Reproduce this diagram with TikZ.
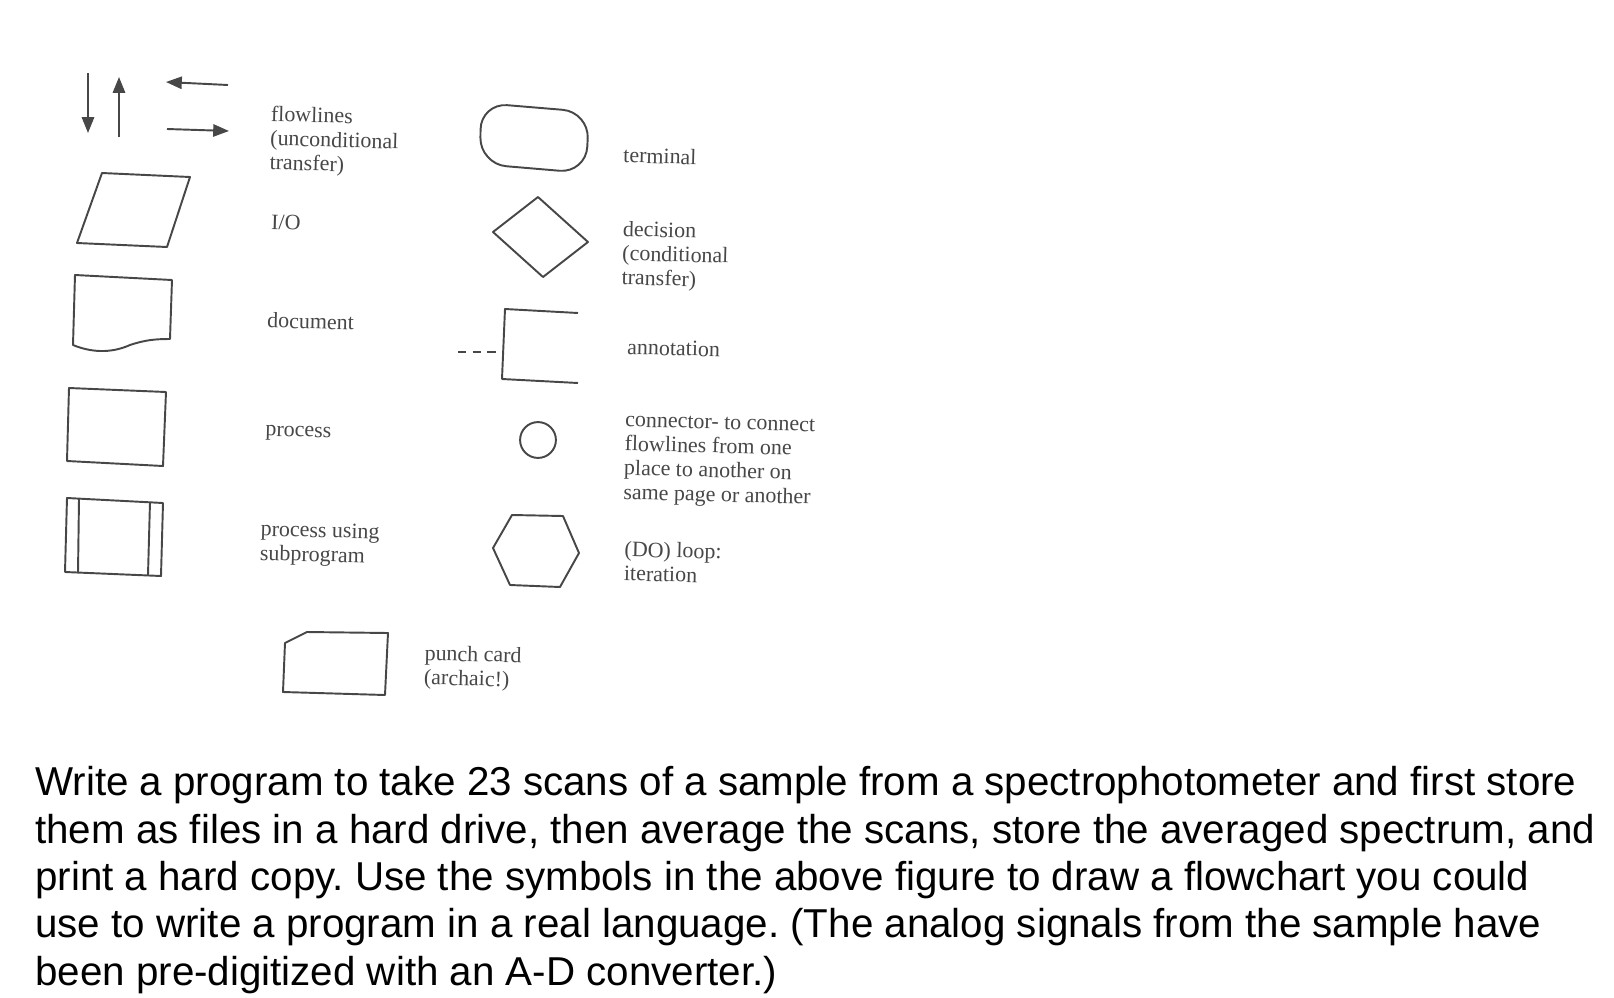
\documentclass[tikz,border=0pt]{standalone}
\usepackage{fontspec}
\setmainfont{Liberation Serif}
\newfontfamily\promptfont{Liberation Sans}
\usetikzlibrary{arrows.meta}
\frenchspacing

\begin{document}
\begin{tikzpicture}[
    x=0.02cm, y=-0.02cm,
    shapeline/.style={draw=black!72, line width=1.1pt, line join=round},
    flow/.style={shapeline, -{Triangle[length=9pt, width=7pt]}},
    legendtext/.style={anchor=west, align=left, inner sep=0pt, text=black!72, rotate=-1.5, font=\fontsize{12.5}{13.8}\selectfont},
    prompt/.style={anchor=north west, align=left, inner sep=0pt, font=\promptfont\fontsize{22.95}{27}\selectfont}
]
\useasboundingbox (0,0) rectangle (1614,998);

% Flowlines
\coordinate (dntop) at (88,73);   \coordinate (dnend) at (88,133);
\coordinate (upbot) at (119,137); \coordinate (upend) at (119,77);
\coordinate (lfrom) at (228,85);  \coordinate (lend) at (166,82);
\coordinate (rfrom) at (167,129); \coordinate (rend) at (229,131);
\draw[flow] (dntop) -- (dnend);
\draw[flow] (upbot) -- (upend);
\draw[flow] (lfrom) -- (lend);
\draw[flow] (rfrom) -- (rend);
\node[legendtext] (flowlbl) at (270,140) {flowlines\\(unconditional\\transfer)};

% Left column symbols
\draw[shapeline] (102,173) -- (190,177) -- (167,247) -- (77,243) -- cycle;
\node[legendtext] (iolbl) at (271,222) {I/O};

\draw[shapeline] (75,275) -- (172,280) -- (170,339)
    .. controls (155,339) and (145,340) .. (130,345)
    .. controls (110,354) and (90,352) .. (73,345) -- cycle;
\node[legendtext] (doclbl) at (267,320) {document};

\draw[shapeline] (69,388) -- (166,392) -- (163,466) -- (67,461) -- cycle;
\node[legendtext] (proclbl) at (265,433) {process};

\draw[shapeline] (67,498) -- (163,503) -- (161,576) -- (65,572) -- cycle;
\draw[shapeline] (79,499) -- (78,573);
\draw[shapeline] (150,502) -- (148,575);
\node[legendtext] (sublbl) at (260,543) {process using\\subprogram};

\draw[shapeline] (285,643) -- (307,632) -- (388,633) -- (385,695) -- (283,692) -- cycle;
\node[legendtext] (cardlbl) at (424,667) {punch card\\(archaic!)};

% Right column symbols
\draw[shapeline, rounded corners=15pt] (481,103) -- (589,112) -- (586,173) -- (480,164) -- cycle;
\node[legendtext] (termlbl) at (623,155) {terminal};

\draw[shapeline] (538,197) -- (588,242) -- (543,277) -- (493,232) -- cycle;
\node[legendtext] (declbl) at (622,255) {decision\\(conditional\\transfer)};

\coordinate (notefoot) at (458,352);
\coordinate (notemid) at (497,352);
\draw[shapeline] (578,313) -- (505,309) -- (502,379) -- (578,383);
\draw[shapeline, dash pattern=on 4.8pt off 3.5pt] (notefoot) -- (notemid);
\node[legendtext] (notelbl) at (627,347) {annotation};

\draw[shapeline] (538,440) circle[radius=10.2pt];
\node[legendtext] (connlbl) at (624,459) {connector- to connect\\flowlines from one\\place to another on\\same page or another};

\draw[shapeline] (512,515) -- (563,516) -- (579,553) -- (560,587) -- (510,585) -- (493,548) -- cycle;
\node[legendtext] (looplbl) at (624,561) {(DO) loop:\\iteration};

% Exercise text
\node[prompt] (task) at (35,766) {Write a program to take 23 scans of a sample from a spectrophotometer and first store\\
them as files in a hard drive, then average the scans, store the averaged spectrum, and\\
print a hard copy. Use the symbols in the above figure to draw a flowchart you could\\
use to write a program in a real language. (The analog signals from the sample have\\
been pre-digitized with an A-D converter.)};

\end{tikzpicture}
\end{document}
